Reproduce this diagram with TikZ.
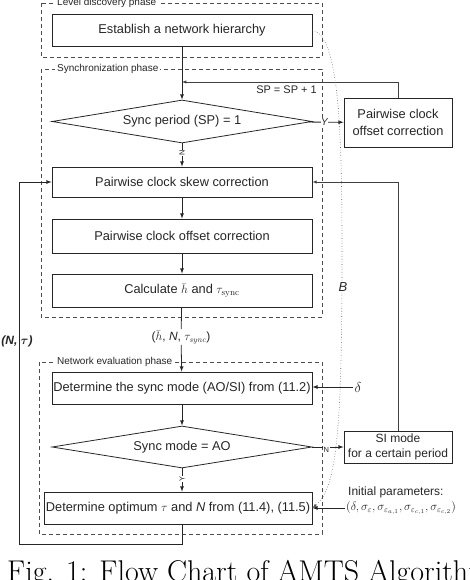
\documentclass[tikz,border=0pt]{standalone}
\usepackage{amsmath}
\usepackage{fontspec}
\setsansfont{Liberation Sans}
\usepackage{xcolor}
\usepackage{tikz}
\usetikzlibrary{arrows,shapes.geometric}

\begin{document}
\begin{tikzpicture}[x=1pt, y=-1pt,
    box/.style={draw=black!85, line width=0.8pt, minimum width=260pt, minimum height=32pt, inner sep=1pt,
      font=\sffamily\fontsize{12.8}{16}\selectfont, text=black!85},
    decide/.style={diamond, aspect=6, draw=black!85, line width=0.8pt, inner sep=0pt, minimum width=260pt, minimum height=43pt,
      font=\sffamily\fontsize{12.8}{16}\selectfont, text=black!85},
    phase/.style={draw=black!70, dashed, dash pattern=on 4pt off 3pt, line width=0.7pt},
    phasename/.style={fill=white, inner sep=2pt, anchor=west, font=\sffamily\fontsize{10}{12}\selectfont, text=black!85},
    txt/.style={inner sep=1pt, font=\sffamily\fontsize{12}{15}\selectfont, text=black!85},
    tiny/.style={fill=white, inner sep=0.4pt, font=\sffamily\fontsize{7.5}{8}\selectfont, text=black!85},
    flow/.style={-latex, line width=0.8pt, draw=black!85},
    back/.style={-latex, line width=0.5pt, draw=black!75}
  ]
  \useasboundingbox (0,0) rectangle (470,580);

  % phases
  \draw[phase] (41,3) rectangle (322,57);
  \node[phasename] (lvlname) at (55,3) {Level discovery phase};
  \draw[phase] (41,69) rectangle (322,317);
  \node[phasename] (syncname) at (55,69) {Synchronization phase};
  \draw[phase] (39,362) rectangle (322,534);
  \node[phasename] (evalname) at (55,362) {Network evaluation phase};

  % steps
  \node[box] (hier) at (182,30) {Establish a network hierarchy};
  \node[decide] (sp) at (182,121.5) {Sync period (SP) = 1};
  \node[box, minimum width=108pt, minimum height=49pt, align=center, font=\sffamily\fontsize{12.8}{16.5}\selectfont] (poc) at (398,122.5) {Pairwise clock\\offset correction};
  \node[box, minimum height=30pt] (skew) at (182,182) {Pairwise clock skew correction};
  \node[box, minimum height=34pt] (off) at (182,236) {Pairwise clock offset correction};
  \node[box, minimum height=33pt] (calc) at (182,290.5) {Calculate $\bar{h}$ and $\tau_{\mathrm{sync}}$};
  \node[txt] (hn) at (181,337) {($\bar{h}$, \textit{N}, $\tau_{\mathit{sync}}$)};
  \node[box] (mode) at (182,388) {Determine the sync mode (AO/SI) from (11.2)};
  \node[decide, minimum height=42pt] (ao) at (182,447) {Sync mode = AO};
  \node[box, minimum width=108pt, align=center, font=\sffamily\fontsize{12}{15}\selectfont] (si) at (398,447) {SI mode\\for a certain period};
  \node[box, minimum width=268pt] (opt) at (178,508) {Determine optimum $\tau$ and \textit{N} from (11.4), (11.5)};

  % inputs
  \node[txt, font=\fontsize{14}{16}\selectfont] (delta) at (358,387) {$\delta$};
  \node[txt, anchor=west] (initt) at (347,492) {Initial parameters:};
  \node[txt, anchor=west] (initv) at (345,508) {$(\delta, \sigma_{\varepsilon}, \sigma_{\varepsilon_{a,1}}, \sigma_{\varepsilon_{c,1}}, \sigma_{\varepsilon_{c,2}})$};
  \node[txt, anchor=east, font=\sffamily\fontsize{11}{13}\selectfont] (incr) at (318,90) {SP = SP + 1};
  \node[txt, fill=white, font=\sffamily\bfseries\itshape\fontsize{12}{14}\selectfont] (ntau) at (17,341) {(\textit{N}, $\boldsymbol{\tau}$)};

  % main flow
  \draw[flow] (hier) -- (sp);
  \draw[flow] (sp) -- (skew) node[tiny, rotate=90, pos=0.4] (nlab) {N};
  \draw[flow] (sp) -- (poc) node[tiny, pos=0.45, font=\sffamily\itshape\fontsize{10}{11}\selectfont] (ylab) {Y};
  \draw[flow] (skew) -- (off);
  \draw[flow] (off) -- (calc);
  \draw[line width=0.8pt, draw=black!85] (calc) -- (hn);
  \draw[flow] (hn) -- (mode);
  \draw[flow] (mode) -- (ao);
  \draw[flow] (ao) -- (si) node[tiny, pos=0.45, yshift=-3pt] (nlab2) {N};
  \draw[flow] (ao) -- (opt.north -| ao.south) node[tiny, rotate=90, pos=0.45] (ylab2) {Y};
  \draw[flow] (delta) -- (mode.east |- delta);
  \draw[flow] (initv.west) -- (opt.east |- initv.west);

  % feedback
  \coordinate (spin) at (182,82);
  \draw[back] (poc.north) |- (spin);
  \draw[back] (si.north) |- (skew.east);
  \coordinate (loop) at (19,544);
  \draw[flow] (opt.south -| mode.south) |- (loop) |- (skew.west);

  % hierarchy info
  \draw[-latex, line width=0.6pt, draw=black!65, dotted] (hier.east) .. controls (338,36) and (342,120) .. (342,250)
    .. controls (342,420) and (338,488) .. (opt.east);
  \node[txt, fill=white, font=\sffamily\itshape\fontsize{13}{15}\selectfont] (blab) at (343,287) {B};

  % caption
  \node[anchor=base west, inner sep=0pt, font=\fontsize{30}{32}\selectfont] (cap) at (7,581) {Fig. 1: Flow Chart of AMTS Algorithm};
\end{tikzpicture}
\end{document}
